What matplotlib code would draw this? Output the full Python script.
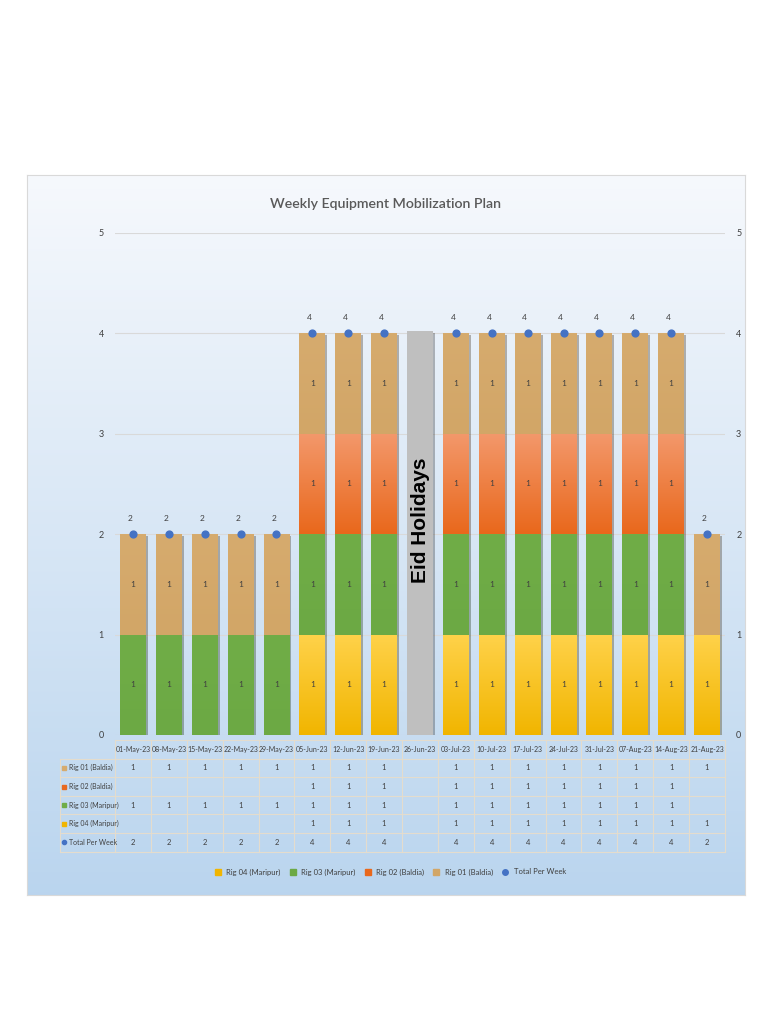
import numpy as np
import matplotlib.pyplot as plt
import matplotlib.colors as mcolors
import matplotlib.patheffects as pe
from matplotlib.lines import Line2D

plt.rcParams['font.family'] = ['Lato', 'DejaVu Sans']

weeks = ['01-May-23', '08-May-23', '15-May-23', '22-May-23', '29-May-23', '05-Jun-23',
         '12-Jun-23', '19-Jun-23', '26-Jun-23', '03-Jul-23', '10-Jul-23', '17-Jul-23',
         '24-Jul-23', '31-Jul-23', '07-Aug-23', '14-Aug-23', '21-Aug-23']
rig01 = [1, 1, 1, 1, 1, 1, 1, 1, None, 1, 1, 1, 1, 1, 1, 1, 1]
rig02 = [None, None, None, None, None, 1, 1, 1, None, 1, 1, 1, 1, 1, 1, 1, None]
rig03 = [1, 1, 1, 1, 1, 1, 1, 1, None, 1, 1, 1, 1, 1, 1, 1, None]
rig04 = [None, None, None, None, None, 1, 1, 1, None, 1, 1, 1, 1, 1, 1, 1, 1]
total = [2, 2, 2, 2, 2, 4, 4, 4, None, 4, 4, 4, 4, 4, 4, 4, 2]
holiday_week = '26-Jun-23'
holiday_label = 'Eid Holidays'
holiday_height = 4.02

# (name, values, top colour, bottom colour) - stacked from bottom
series = [
    ('Rig 04 (Maripur)', rig04, '#ffd24a', '#f1b500'),
    ('Rig 03 (Maripur)', rig03, '#70ad47', '#6ca944'),
    ('Rig 02 (Baldia)', rig02, '#f3986b', '#e9681c'),
    ('Rig 01 (Baldia)', rig01, '#d6ab6e', '#d2a667'),
]
dot_color = '#4472c4'
txt = '#404040'

fig = plt.figure(figsize=(7.68, 10.24), dpi=100)

# chart panel with soft blue gradient
bg = fig.add_axes([27 / 768, 1 - 895 / 1024, 718 / 768, 720 / 1024], zorder=-5)
grad = np.linspace(0, 1, 256).reshape(-1, 1)
c_top = np.array([0.965, 0.975, 0.99])
c_bot = np.array([0.73, 0.835, 0.935])
img = c_top + (c_bot - c_top) * grad[:, :, None]
bg.imshow(img, aspect='auto', extent=(0, 1, 0, 1), origin='upper')
bg.set_xlim(0, 1)
bg.set_ylim(0, 1)
bg.set_xticks([])
bg.set_yticks([])
for s in bg.spines.values():
    s.set_color('#d9d9d9')

ax = fig.add_axes([115 / 768, 1 - 735 / 1024, 610 / 768, 502 / 1024])
ax.patch.set_alpha(0)
x = np.arange(len(weeks))
ax.set_xlim(-0.5, len(weeks) - 0.5)
ax.set_ylim(0, 5)
ax.set_yticks(range(6))
ax.tick_params(axis='y', length=0, labelsize=6.5, labelcolor=txt, labelright=True, pad=8)
ax.set_xticks([])
for s in ax.spines.values():
    s.set_visible(False)
ax.grid(axis='y', color='#d9d9d9', linewidth=0.8)
ax.set_axisbelow(True)

width = 0.72
shadow = [pe.SimplePatchShadow(offset=(1.5, -1.5), alpha=0.35), pe.Normal()]
bottom = np.zeros(len(weeks))
for name, vals, ctop, cbot in series:
    v = np.array([0 if a is None else a for a in vals], dtype=float)
    bars = ax.bar(x, v, width, bottom=bottom, color=cbot, zorder=2, path_effects=shadow)
    t = np.linspace(0, 1, 64)[:, None, None]
    seg = np.array(mcolors.to_rgb(ctop)) * (1 - t) + np.array(mcolors.to_rgb(cbot)) * t
    for i, b in enumerate(bars):
        if v[i] == 0:
            continue
        im = ax.imshow(seg, aspect='auto', zorder=3, origin='upper',
                       extent=(b.get_x(), b.get_x() + b.get_width(), b.get_y(), b.get_y() + b.get_height()))
        im.set_clip_path(b)
        ax.text(x[i], bottom[i] + v[i] / 2, str(int(v[i])), ha='center', va='center',
                fontsize=6, color=txt, zorder=4)
    bottom += v

# holiday bar
hi = weeks.index(holiday_week)
ax.bar(x[hi], holiday_height, width, color='#bfbfbf', zorder=2, path_effects=shadow)
ax.text(x[hi], 2.14, holiday_label, rotation=90, ha='center', va='center', fontsize=15,
        fontweight='bold', color='black', family=['Liberation Sans', 'DejaVu Sans'], zorder=4)

# total per week markers
tx = [x[i] for i, t in enumerate(total) if t is not None]
tv = [t for t in total if t is not None]
ax.scatter(tx, tv, s=24, color=dot_color, zorder=5)
for xi, t in zip(tx, tv):
    ax.text(xi - 0.08, t + 0.12, str(t), ha='center', va='bottom', fontsize=6, color=txt, zorder=5)

fig.text(386 / 768, 1 - 204 / 1024, 'Weekly Equipment Mobilization Plan', ha='center', va='center',
         fontsize=10.2, fontweight='semibold', color='#595959')

# data table under the axis
tr = ax.get_xaxis_transform()
px = 1 / 502
row_h = 18.6 * px
top_y = -5 * px
label_left = -0.5 - 55 / 35.9
grid_c = '#e4dccd'
rows = [('Rig 01 (Baldia)', rig01, series[3][2], 's'),
        ('Rig 02 (Baldia)', rig02, series[2][3], 's'),
        ('Rig 03 (Maripur)', rig03, series[1][2], 's'),
        ('Rig 04 (Maripur)', rig04, series[0][3], 's'),
        ('Total Per Week', total, dot_color, 'o')]
n_rows = len(rows) + 1
for r in range(n_rows + 1):
    y = top_y - r * row_h
    x0 = -0.5 if r == 0 else label_left
    ax.plot([x0, len(weeks) - 0.5], [y, y], color=grid_c, lw=0.8, transform=tr, clip_on=False)
for c in range(len(weeks) + 1):
    ax.plot([c - 0.5, c - 0.5], [top_y, top_y - n_rows * row_h], color=grid_c, lw=0.8,
            transform=tr, clip_on=False)
ax.plot([label_left, label_left], [top_y - row_h, top_y - n_rows * row_h], color=grid_c, lw=0.8,
        transform=tr, clip_on=False)
for i, w in enumerate(weeks):
    ax.text(x[i], top_y - row_h / 2, w, ha='center', va='center', fontsize=5, color=txt,
            transform=tr, clip_on=False)
for r, (name, vals, col, mk) in enumerate(rows):
    yc = top_y - (r + 1.5) * row_h
    ax.plot([label_left + 0.12], [yc], marker=mk, ms=3, color=col, transform=tr, clip_on=False)
    ax.text(label_left + 0.24, yc, name, ha='left', va='center', fontsize=5, color=txt,
            transform=tr, clip_on=False)
    for i, v in enumerate(vals):
        if v is not None:
            ax.text(x[i], yc, str(v), ha='center', va='center', fontsize=5.5, color=txt,
                    transform=tr, clip_on=False)

# legend
handles = [Line2D([], [], ls='', marker='s', ms=4, color=s[3]) for s in series]
handles.append(Line2D([], [], ls='', marker='o', ms=4, color=dot_color))
fig.legend(handles, [s[0] for s in series] + ['Total Per Week'], loc='center',
           bbox_to_anchor=(388 / 768, 1 - 872 / 1024), ncol=5, frameon=False, fontsize=5.5,
           handletextpad=0.1, columnspacing=0.6, labelcolor=txt)

fig.savefig('out.png', dpi=100, facecolor='white')
